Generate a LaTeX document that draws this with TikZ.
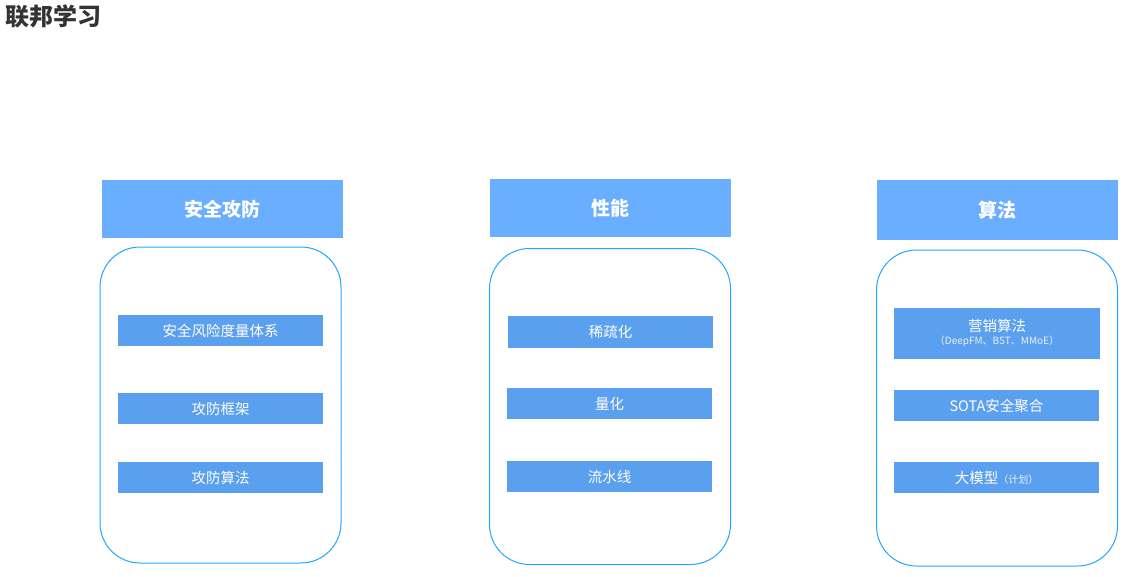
\documentclass[tikz,border=0pt]{standalone}
\usepackage{fontspec}
\setmainfont{Noto Sans CJK SC}
\definecolor{headblue}{HTML}{69AEFF}
\definecolor{itemblue}{HTML}{5B9FEF}
\definecolor{lineblue}{HTML}{1EA7FF}
\definecolor{titlegray}{HTML}{333333}
\tikzset{
  headbox/.style={fill=headblue, text=white, font=\bfseries\fontsize{19}{22}\selectfont,
    minimum width=241pt, minimum height=58pt, inner sep=0pt},
  groupbox/.style={draw=lineblue, line width=1pt, rounded corners=40pt,
    minimum width=241pt, minimum height=316pt, inner sep=0pt},
  itembox/.style={fill=itemblue, text=white, font=\fontsize{14.5}{16}\selectfont,
    minimum width=205pt, minimum height=31pt, inner sep=0pt, align=center}
}
\begin{document}
\begin{tikzpicture}[x=1pt, y=-1pt]
  \useasboundingbox (0,0) rectangle (1129,576);
  \node[anchor=north west, text=titlegray, font=\bfseries\fontsize{24}{28}\selectfont, inner sep=0pt] (title) at (5,5) {联邦学习};
  % column 1
  \node[headbox] (h1) at (222.5,209) {安全攻防};
  \node[groupbox] (g1) at (220.5,405) {};
  \node[itembox] (a1) at (220.5,330.5) {安全风险度量体系};
  \node[itembox] (a2) at (220.5,408.5) {攻防框架};
  \node[itembox] (a3) at (220.5,477.5) {攻防算法};
  % column 2
  \node[headbox] (h2) at (610.5,208) {性能};
  \node[groupbox] (g2) at (610,406.5) {};
  \node[itembox, minimum height=32pt] (b1) at (610.5,332) {稀疏化};
  \node[itembox] (b2) at (609.5,403.5) {量化};
  \node[itembox] (b3) at (609.5,476.5) {流水线};
  % column 3
  \node[headbox, minimum height=60pt] (h3) at (997.5,210) {算法};
  \node[groupbox] (g3) at (997,408) {};
  \node[itembox, minimum width=206pt, minimum height=51pt] (c1) at (997,333.5)
    {营销算法\\[-3pt]{\fontsize{10}{11}\selectfont\color{white!85!itemblue}（DeepFM、BST、MMoE）}};
  \node[itembox] (c2) at (996.5,405.5) {SOTA安全聚合};
  \node[itembox] (c3) at (996.5,477.5) {大模型{\fontsize{10}{11}\selectfont\color{white!85!itemblue}（计划）}};
\end{tikzpicture}
\end{document}
